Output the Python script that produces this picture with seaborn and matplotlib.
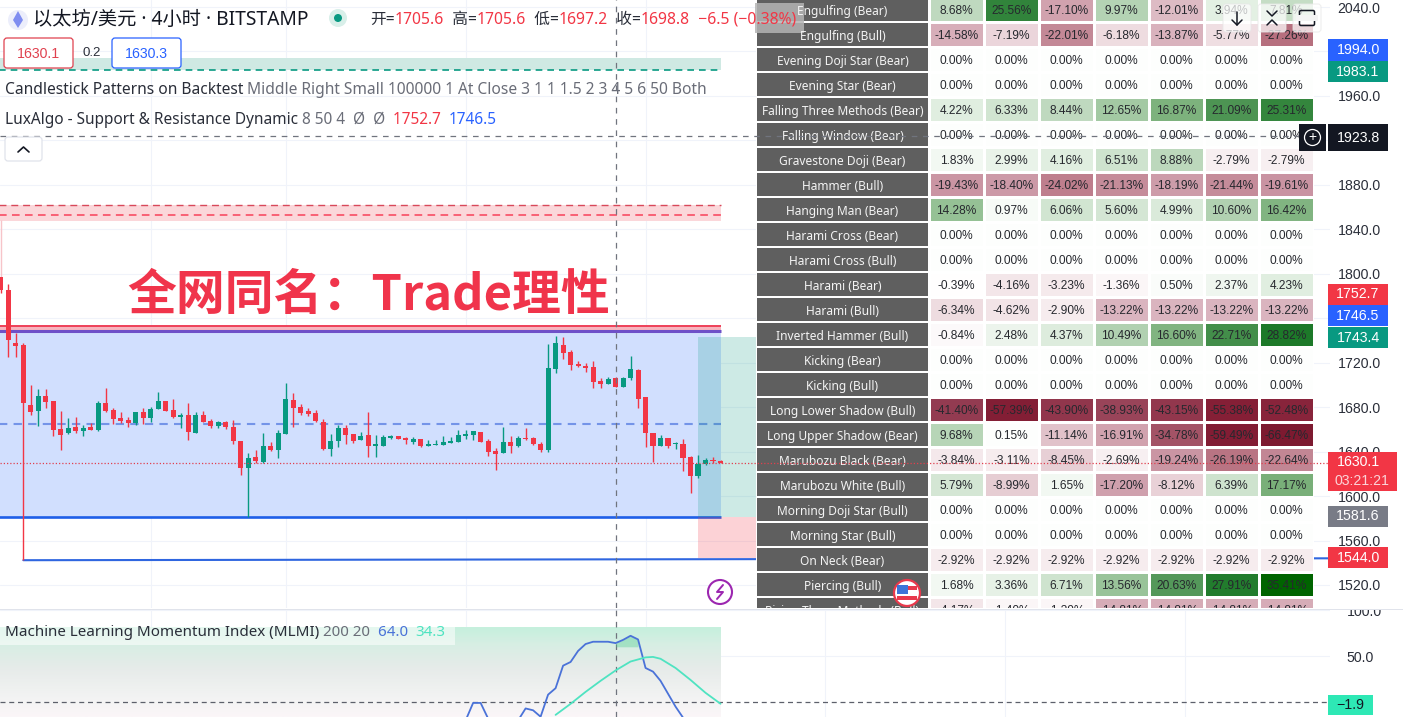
import numpy as np
import pandas as pd
import seaborn as sns
import matplotlib
matplotlib.use("Agg")
import matplotlib.pyplot as plt
from matplotlib.colors import LinearSegmentedColormap, ListedColormap
from matplotlib.patches import Circle, FancyBboxPatch, Polygon, Rectangle

# --- candles (4h ETH/USD), first entry is the bar cut off at the left edge ---
opens = [1797.0, 1785.4, 1738.0, 1735.9, 1681.9, 1676.8, 1690.0, 1685.8, 1660.3, 1656.4, 1662.1, 1658.5, 1662.1, 1659.4,
         1683.4, 1677.4, 1670.5, 1668.4, 1666.0, 1675.6, 1670.5, 1678.6, 1685.5, 1677.4, 1671.4, 1672.9, 1657.0, 1672.9,
         1667.5, 1663.0, 1666.6, 1662.1, 1649.5, 1624.9, 1635.1, 1630.6, 1645.0, 1641.4, 1656.1, 1686.4, 1679.8, 1676.5,
         1674.4, 1666.9, 1642.3, 1649.8, 1661.2, 1655.5, 1650.4, 1654.6, 1645.3, 1645.0, 1652.2, 1653.7, 1652.2, 1648.3,
         1651.3, 1645.3, 1645.9, 1645.9, 1648.0, 1648.6, 1654.3, 1654.9, 1657.6, 1649.5, 1640.5, 1639.0, 1648.6, 1645.0,
         1652.2, 1652.5, 1646.8, 1641.4, 1714.3, 1735.9, 1729.6, 1718.8, 1717.0, 1716.1, 1703.5, 1701.1, 1705.9, 1698.4,
         1705.9, 1713.4, 1688.8, 1656.4, 1645.3, 1652.2, 1646.5, 1646.5, 1635.1, 1618.3, 1628.5, 1632.1, 1631.2]
highs = [1797.0, 1790.8, 1746.4, 1737.4, 1699.9, 1696.3, 1696.3, 1685.8, 1676.8, 1669.9, 1671.4, 1663.9, 1665.4, 1685.8,
         1696.9, 1678.9, 1675.3, 1670.8, 1675.6, 1678.9, 1679.8, 1693.6, 1685.5, 1687.3, 1674.4, 1684.0, 1675.3, 1676.8,
         1669.3, 1667.2, 1667.2, 1668.4, 1649.5, 1638.4, 1641.4, 1656.4, 1648.3, 1659.4, 1701.4, 1693.0, 1682.5, 1678.9,
         1677.4, 1669.3, 1655.8, 1663.9, 1663.9, 1655.5, 1657.9, 1675.3, 1654.9, 1654.6, 1654.9, 1653.7, 1652.8, 1652.8,
         1651.3, 1650.1, 1650.1, 1654.0, 1652.8, 1659.4, 1659.4, 1658.2, 1657.6, 1651.0, 1642.9, 1661.8, 1654.0, 1654.0,
         1661.2, 1653.4, 1648.3, 1736.8, 1744.3, 1742.8, 1731.4, 1721.8, 1720.0, 1721.8, 1705.9, 1707.4, 1706.8, 1706.8,
         1726.0, 1714.0, 1688.8, 1656.4, 1654.6, 1652.2, 1648.3, 1651.0, 1636.3, 1636.9, 1634.5, 1635.4, 1632.4]
lows = [1783.0, 1725.4, 1724.8, 1542.4, 1672.9, 1663.0, 1678.9, 1654.0, 1641.4, 1655.8, 1657.0, 1654.3, 1659.4, 1658.8,
        1675.9, 1664.8, 1665.4, 1662.4, 1663.9, 1664.8, 1666.9, 1678.0, 1676.8, 1670.5, 1661.5, 1650.4, 1657.0, 1666.9,
        1661.5, 1661.5, 1660.3, 1646.5, 1618.9, 1581.4, 1630.0, 1630.0, 1640.8, 1634.5, 1655.5, 1661.8, 1672.9, 1672.3,
        1666.9, 1641.7, 1636.3, 1644.1, 1646.8, 1648.0, 1650.4, 1635.4, 1635.4, 1645.0, 1651.3, 1651.0, 1646.8, 1647.1,
        1643.8, 1645.0, 1645.9, 1645.9, 1647.4, 1648.6, 1651.0, 1650.4, 1648.6, 1636.0, 1623.4, 1639.0, 1639.0, 1643.8,
        1650.4, 1645.9, 1639.3, 1639.9, 1710.4, 1723.0, 1713.4, 1716.4, 1711.9, 1697.5, 1697.5, 1700.8, 1698.1, 1698.4,
        1704.4, 1679.5, 1643.8, 1630.3, 1645.3, 1643.5, 1642.0, 1622.5, 1603.0, 1615.9, 1627.6, 1630.0, 1629.4]
closes = [1785.0, 1740.4, 1735.0, 1683.4, 1675.9, 1690.0, 1684.9, 1659.4, 1654.9, 1661.2, 1658.5, 1661.5, 1659.7, 1684.0,
          1676.5, 1669.3, 1667.5, 1665.4, 1675.6, 1670.5, 1678.6, 1685.5, 1676.8, 1671.1, 1673.2, 1657.9, 1672.9, 1666.9,
          1663.0, 1666.6, 1662.4, 1649.8, 1624.9, 1633.9, 1631.5, 1645.0, 1641.4, 1656.4, 1687.3, 1679.5, 1675.0, 1673.8,
          1667.5, 1642.3, 1649.5, 1661.2, 1654.9, 1649.8, 1654.0, 1645.3, 1646.8, 1653.4, 1654.3, 1651.3, 1650.1, 1651.3,
          1645.0, 1646.8, 1646.5, 1648.3, 1649.2, 1654.9, 1655.8, 1658.2, 1648.6, 1639.9, 1638.1, 1648.6, 1645.0, 1652.2,
          1651.3, 1646.5, 1641.4, 1714.9, 1737.4, 1729.0, 1717.9, 1717.0, 1715.2, 1702.9, 1701.1, 1705.3, 1698.1, 1705.9,
          1714.0, 1687.3, 1657.0, 1645.3, 1652.2, 1645.0, 1647.7, 1634.5, 1618.3, 1628.5, 1632.1, 1631.2, 1630.1]
pale_wick_top = 1848.0

# --- indicator levels ---
resist_upper, resist_mid, resist_lower = 1861.5, 1852.9, 1847.5
band_top, band_bottom = 1994.0, 1983.1
range_top, range_mid, range_bottom = 1748.5, 1665.1, 1581.6
red_line = 1752.7
entry_price, target_price, stop_price = 1581.6, 1743.4, 1544.0
stop_line_start = 1542.3
last_price = 1630.1
cross_price = 1923.8

# --- lower pane (MLMI) ---
mlmi_bars = [61, 62, 63, 64, 65, 66, 67, 68, 69, 70, 71, 72, 73, 74, 75, 76, 77, 78, 79, 80, 81, 82, 83, 84, 85, 86, 87,
             88, 89, 90, 91, 92]
mlmi_vals = [-20, -1, -1, -18, -30, -35, -30, -20, -7, -9, -16, 8, 15, 39.5, 43.5, 55.5, 63, 65.5, 65.5, 65.5, 64, 67.5,
             72, 68, 37, 33, 23, 9, -5, -17, -30, -40]
ma_bars = [73, 75, 77, 79, 81, 83, 85, 86, 87, 89, 91, 93, 95]
ma_vals = [-14, -2, 11, 23, 34.3, 44, 48.5, 49, 47, 37, 24, 10, -1.9]

# --- backtest table ---
pattern_names = ["Engulfing (Bear)", "Engulfing (Bull)", "Evening Doji Star (Bear)", "Evening Star (Bear)",
                 "Falling Three Methods (Bear)", "Falling Window (Bear)", "Gravestone Doji (Bear)", "Hammer (Bull)",
                 "Hanging Man (Bear)", "Harami Cross (Bear)", "Harami Cross (Bull)", "Harami (Bear)", "Harami (Bull)",
                 "Inverted Hammer (Bull)", "Kicking (Bear)", "Kicking (Bull)", "Long Lower Shadow (Bull)",
                 "Long Upper Shadow (Bear)", "Marubozu Black (Bear)", "Marubozu White (Bull)",
                 "Morning Doji Star (Bull)", "Morning Star (Bull)", "On Neck (Bear)", "Piercing (Bull)",
                 "Rising Three Methods (Bull)"]
pattern_returns = [
    [8.68, 25.56, -17.10, 9.97, -12.01, 3.94, 7.81],
    [-14.58, -7.19, -22.01, -6.18, -13.87, -5.77, -27.26],
    [0, 0, 0, 0, 0, 0, 0],
    [0, 0, 0, 0, 0, 0, 0],
    [4.22, 6.33, 8.44, 12.65, 16.87, 21.09, 25.31],
    [0, 0, 0, 0, 0, 0, 0],
    [1.83, 2.99, 4.16, 6.51, 8.88, -2.79, -2.79],
    [-19.43, -18.40, -24.02, -21.13, -18.19, -21.44, -19.61],
    [14.28, 0.97, 6.06, 5.60, 4.99, 10.60, 16.42],
    [0, 0, 0, 0, 0, 0, 0],
    [0, 0, 0, 0, 0, 0, 0],
    [-0.39, -4.16, -3.23, -1.36, 0.50, 2.37, 4.23],
    [-6.34, -4.62, -2.90, -13.22, -13.22, -13.22, -13.22],
    [-0.84, 2.48, 4.37, 10.49, 16.60, 22.71, 28.82],
    [0, 0, 0, 0, 0, 0, 0],
    [0, 0, 0, 0, 0, 0, 0],
    [-41.40, -57.39, -43.90, -38.93, -43.15, -55.38, -52.48],
    [9.68, 0.15, -11.14, -16.91, -34.78, -59.49, -66.47],
    [-3.84, -3.11, -8.45, -2.69, -19.24, -26.19, -22.64],
    [5.79, -8.99, 1.65, -17.20, -8.12, 6.39, 17.17],
    [0, 0, 0, 0, 0, 0, 0],
    [0, 0, 0, 0, 0, 0, 0],
    [-2.92, -2.92, -2.92, -2.92, -2.92, -2.92, -2.92],
    [1.68, 3.36, 6.71, 13.56, 20.63, 27.91, 35.41],
    [-4.17, -1.40, -1.39, -14.81, -14.81, -14.81, -14.81],
]
scale_vals = [-66.47, -55, -41, -27, -19, -13, -8, -3, 0, 4, 8.5, 12.65, 16.87, 21.09, 28.82, 35.41]
scale_colors = ["#7d1a30", "#851f36", "#943c52", "#b7707f", "#cb97a5", "#dbb6c0", "#e9d2d8", "#f6ecee", "#ffffff",
                "#e2efe2", "#c0dac0", "#a3c9a3", "#7fb37f", "#4f9555", "#1e7a2a", "#006400"]

price_ticks = [2040, 1960, 1880, 1840, 1800, 1720, 1680, 1640, 1600, 1560, 1520]
grid_prices = [2040, 2000, 1960, 1920, 1880, 1840, 1800, 1760, 1720, 1680, 1640, 1600, 1560, 1520]
grid_bars = [19, 37, 61, 85, 109, 133, 157]

RED = "#f23645"
GREEN = "#089981"
BLUE = "#2962ff"
W, H = 1403, 717
FONT = ["Liberation Sans", "Noto Sans CJK SC", "DejaVu Sans"]
TEXT_FONT = ["Noto Sans", "Noto Sans CJK SC", "DejaVu Sans"]

sns.set_theme(style="white")
plt.rcParams["font.family"] = FONT


def px_rect(x0, y0, x1, y1):
    return [x0 / W, 1 - y1 / H, (x1 - x0) / W, (y1 - y0) / H]


fig = plt.figure(figsize=(W / 100, H / 100), dpi=100, facecolor="white")

# --- main price pane ---
ax = fig.add_axes(px_rect(0, 0, 1330, 608), zorder=1)
xlim = (-1.11, 176.3)
ylim = (1499.3, 2046.3)
ax.set_xlim(xlim)
ax.set_ylim(ylim)
ax.yaxis.tick_right()
ax.set_yticks(price_ticks)
ax.set_yticklabels([f"{p:.1f}" for p in price_ticks], fontsize=10.2, color="#2a2e39")
ax.set_yticks(grid_prices, minor=True)
ax.set_xticks(grid_bars)
ax.set_xticklabels([])
ax.tick_params(axis="y", which="both", length=0, pad=5.5)
ax.tick_params(axis="x", length=0)
ax.grid(True, which="both", color="#f0f3fa", lw=0.8)
ax.set_axisbelow(True)
sns.despine(ax=ax, left=True, right=True, top=True, bottom=True)

# level bands
ax.fill_between([-2, 95], band_bottom, band_top, color="#cfe9e3", lw=0, zorder=1.1)
ax.hlines(band_bottom, -2, 95, color=GREEN, lw=1.2, ls=(0, (4, 3)), zorder=1.2)
ax.fill_between([-2, 95], resist_lower, resist_upper + 0.5, color="#fbd7da", lw=0, zorder=1.1)
ax.hlines(resist_upper, -2, 95, color="#d8485a", lw=1.0, ls=(0, (5, 3.5)), zorder=1.2)
ax.hlines(resist_mid, -2, 95, color="#f8405a", lw=1.1, ls=(0, (5, 3.5)), zorder=1.2)

# range box
ax.fill_between([-2, 95], range_bottom, range_top, color="#d1dffe", lw=0, zorder=1.1)
ax.fill_between([-2, 95], range_top, red_line, color="#f7b4bd", lw=0, zorder=1.1)
ax.hlines(red_line, -2, 95, color="#ee4058", lw=1.4, zorder=1.3)
ax.hlines(range_top, -2, 95, color="#6f50c8", lw=2.2, zorder=1.3)
ax.hlines(range_bottom, -2, 95, color="#1f5fe8", lw=1.9, zorder=1.3)
ax.hlines(range_mid, -2, 95, color="#7494e8", lw=1.5, ls=(0, (4, 3)), zorder=1.3)
ax.plot([2, 176.3], [stop_line_start, stop_price], color="#2f66e0", lw=1.5, zorder=1.3)

# position boxes
ax.fill_between([92, 101], entry_price, target_price, color=GREEN, alpha=0.2, lw=0, zorder=1.4)
ax.fill_between([92, 101], stop_price, entry_price, color=RED, alpha=0.22, lw=0, zorder=1.4)

# candles
candles = pd.DataFrame({"open": opens, "high": highs, "low": lows, "close": closes})
candles["bar"] = np.arange(len(candles)) - 1
candles["color"] = np.where(candles["close"] >= candles["open"], GREEN, RED)
ax.vlines(-1, highs[0], pale_wick_top, color="#f7c4c9", lw=1.0, zorder=2)
ax.vlines(candles["bar"], candles["low"], candles["high"], colors=candles["color"], lw=1.0, zorder=2)
ax.bar(candles["bar"], (candles["close"] - candles["open"]).abs().clip(lower=0.8),
       bottom=candles[["open", "close"]].min(axis=1), width=0.68, color=candles["color"], lw=0, zorder=2.1)

# --- backtest table ---
ret = np.array(pattern_returns)
pct_labels = np.array([[f"{v:.2f}%" for v in row] for row in pattern_returns])
span = scale_vals[-1] - scale_vals[0]
table_cmap = LinearSegmentedColormap.from_list(
    "backtest", [((v - scale_vals[0]) / span, c) for v, c in zip(scale_vals, scale_colors)])

ax_names = fig.add_axes(px_rect(756, 0, 929, 608), zorder=2)
sns.heatmap(np.zeros((len(pattern_names), 1)), ax=ax_names, cmap=ListedColormap(["#5f5f5f"]), cbar=False,
            annot=np.array(pattern_names).reshape(-1, 1), fmt="", linewidths=1.1, linecolor="white",
            annot_kws={"fontsize": 8.6, "color": "#f4f4f4", "fontfamily": TEXT_FONT},
            xticklabels=False, yticklabels=False)
ax_table = fig.add_axes(px_rect(929, 0, 1314, 608), zorder=2)
sns.heatmap(ret, ax=ax_table, cmap=table_cmap, vmin=scale_vals[0], vmax=scale_vals[-1], cbar=False,
            annot=pct_labels, fmt="", linewidths=0.8, linecolor="white",
            annot_kws={"fontsize": 8.6, "color": "#26282e", "fontfamily": FONT}, xticklabels=False, yticklabels=False)
for a in (ax_names, ax_table):
    a.set_ylim(24.42, 0.1)
    for t in a.texts:
        t.set_y(t.get_position()[1] + 0.05)
        t.set_clip_on(True)
# header overlay sits under the pattern name, above the grey cell
ax_names.add_patch(Rectangle((755 / W, 1 - 33 / H), 49 / W, 30 / H, transform=fig.transFigure, clip_on=False,
                             color="#b4b4b4", alpha=0.85, lw=0, zorder=1.5))

# --- lines that run over everything ---
ax_over = fig.add_axes(px_rect(0, 0, 1330, 608), zorder=3, facecolor="none")
ax_over.set_xlim(xlim)
ax_over.set_ylim(ylim)
ax_over.set_axis_off()
ax_over.hlines(last_price, xlim[0], xlim[1], color="#e0404f", lw=0.9, ls=(0, (1, 1.6)))
ax_over.hlines(cross_price, xlim[0], xlim[1], color="#70747e", lw=0.9, ls=(0, (4.5, 4.5)))
ax_over.vlines(81, ylim[0], ylim[1], color="#70747e", lw=0.9, ls=(0, (4.5, 4.5)))

# --- lower pane ---
ax_low = fig.add_axes(px_rect(0, 610, 1330, 717), zorder=1)
low_ylim = (-16.3, 100)
ax_low.set_xlim(xlim)
ax_low.set_ylim(low_ylim)
ax_low.yaxis.tick_right()
ax_low.set_yticks([50, 100])
ax_low.set_yticklabels(["50.0", "100.0"], fontsize=10.2, color="#2a2e39")
ax_low.set_xticks(grid_bars)
ax_low.set_xticklabels([])
ax_low.tick_params(axis="x", length=0)
ax_low.tick_params(axis="y", length=0, pad=12)
ax_low.grid(True, color="#f0f3fa", lw=0.8)
ax_low.set_axisbelow(True)
sns.despine(ax=ax_low, left=True, right=True, top=True, bottom=True)

shade = LinearSegmentedColormap.from_list(
    "mlmi_shade", [(0, "#c6f0dd"), (0.2, "#d8eee4"), (0.45, "#e6ebe9"), (0.82, "#f4f4f4"), (1, "#fbf6f8")])
ax_low.imshow(np.linspace(0, 1, 80).reshape(-1, 1), cmap=shade, aspect="auto", extent=(-2, 95, low_ylim[0], 81.5),
              zorder=1.1, interpolation="bilinear")
ax_low.set_xlim(xlim)
ax_low.set_ylim(low_ylim)
ax_low.hlines(0, xlim[0], xlim[1], color="#5d606b", lw=0.9, ls=(0, (4, 3)), zorder=1.3)
ax_low.vlines(81, low_ylim[0], low_ylim[1], color="#70747e", lw=0.9, ls=(0, (4.5, 4.5)), zorder=1.3)

mlmi = pd.DataFrame({"bar": mlmi_bars, "value": mlmi_vals})
ma = pd.DataFrame({"bar": ma_bars, "value": ma_vals})
peak = mlmi[(mlmi["bar"] >= 81) & (mlmi["bar"] <= 84)]
ax_low.fill_between(peak["bar"], peak["value"], 60, color="#46c98a", alpha=0.35, lw=0, zorder=1.4)
sns.lineplot(data=mlmi, x="bar", y="value", ax=ax_low, color="#4a72d8", lw=1.3, zorder=2, errorbar=None)
sns.lineplot(data=ma, x="bar", y="value", ax=ax_low, color="#4fe3c1", lw=1.3, zorder=2, errorbar=None)
ax_low.set_xlabel("")
ax_low.set_ylabel("")

# --- text, tags and buttons in pixel space ---
ov = fig.add_axes([0, 0, 1, 1], zorder=4, facecolor="none")
ov.set_xlim(0, W)
ov.set_ylim(H, 0)
ov.set_axis_off()
renderer = fig.canvas.get_renderer()


def runs(x, y, pieces, size):
    for txt, col in pieces:
        t = ov.text(x, y, txt, color=col, fontsize=size, va="center", ha="left", family=TEXT_FONT)
        x = ov.transData.inverted().transform(t.get_window_extent(renderer))[1, 0]
    return x


def tag(y0, y1, txt, face, x1=1388, tc="white"):
    ov.add_patch(Rectangle((1328, y0), x1 - 1328, y1 - y0, color=face, lw=0))
    ov.text((1328 + x1) / 2, (y0 + y1) / 2, txt, color=tc, fontsize=10.2, ha="center", va="center")


# separator between panes, hides the top half of the 100.0 label
ov.add_patch(Rectangle((1330, 598), 73, 10.5, color="white", lw=0))
ov.add_patch(Rectangle((0, 608.5), 1403, 1.6, color="#e0e3eb", lw=0))

# header
ov.add_patch(Circle((18, 20), 10, color="#eceefb", lw=0))
ov.add_patch(Polygon([(18, 11), (23, 20), (18, 28), (13, 20)], color="#7f8df0", lw=0))
runs(33, 20, [("以太坊/美元 · 4小时 · BITSTAMP", "#131722")], 13.85)
ov.add_patch(Circle((338, 18), 9, color="#d8efe9", lw=0))
ov.add_patch(Circle((338, 18), 4, color=GREEN, lw=0))
runs(370, 20, [("开=", "#2a2e39"), ("1705.6", RED), ("  高=", "#2a2e39"), ("1705.6", RED),
               ("  低=", "#2a2e39"), ("1697.2", RED), ("  收=", "#2a2e39"), ("1698.8", RED),
               ("  −6.5 (−0.38%)", RED)], 11.3)

for x0, x1, ec, txt in [(4, 73, "#e0414f", "1630.1"), (112, 181, "#2962ff", "1630.3")]:
    ov.add_patch(FancyBboxPatch((x0 + 3, 41), x1 - x0 - 6, 24, boxstyle="round,pad=3", fc="white", ec=ec, lw=0.9))
    ov.text((x0 + x1) / 2, 54, txt, color=ec, fontsize=10.2, ha="center", va="center")
ov.text(92, 53, "0.2", color="#2a2e39", fontsize=9.5, ha="center", va="center")

runs(5, 90.5, [("Candlestick Patterns on Backtest ", "#2a2e39"),
               ("Middle Right Small 100000 1 At Close 3 1 1 1.5 2 3 4 5 6 50 Both", "#6a6d78")], 11.2)
runs(5, 119.5, [("LuxAlgo - Support & Resistance Dynamic ", "#2a2e39"), ("8 50 4  Ø  Ø  ", "#6a6d78"),
                ("1752.7  ", RED), ("1746.5", BLUE)], 11.1)
ov.add_patch(FancyBboxPatch((8, 140), 31, 18, boxstyle="round,pad=3", fc="white", ec="#e0e3eb", lw=0.9))
ov.plot([18, 23.5, 29], [152, 147, 152], color="#131722", lw=1.2)

ov.text(368.5, 295, "全网同名：Trade理性", color="#f0344b", fontsize=35.2, fontweight="bold", ha="center", va="center",
        family=["Noto Sans CJK SC", "DejaVu Sans"])

# price tags
tag(39, 62, "1994.0", BLUE)
tag(61, 82, "1983.1", GREEN)
tag(124, 151, "1923.8", "#131722")
ov.add_patch(Rectangle((1299, 124), 27, 27, color="#131722", lw=0))
ov.add_patch(Circle((1312.5, 137.5), 8, fc="none", ec="white", lw=0.9))
ov.text(1312.5, 137, "+", color="white", fontsize=10, ha="center", va="center")
tag(284, 305, "1752.7", RED)
tag(305, 326, "1746.5", BLUE)
tag(327, 348, "1743.4", GREEN)
tag(452, 491, "", RED, x1=1397)
ov.text(1358, 462, "1630.1", color="white", fontsize=10.2, ha="center", va="center")
ov.text(1362, 481, "03:21:21", color="#fbd4d8", fontsize=10.2, ha="center", va="center")
tag(506, 527, "1581.6", "#787b86")
tag(547, 568, "1544.0", RED)
tag(695, 715, "−1.9", "#2ee8b5", x1=1373, tc="#131722")

# chart buttons
for x0 in (1223, 1258, 1293):
    ov.add_patch(FancyBboxPatch((x0 + 3, 7), 22, 22, boxstyle="round,pad=3", fc="white", ec="#e8e8e8", alpha=0.72, lw=0.8))
ov.plot([1237, 1237], [12, 25], color="#131722", lw=1.1)
ov.plot([1232, 1237, 1242], [20, 25, 20], color="#131722", lw=1.1)
ov.plot([1267, 1272, 1277], [11, 16, 11], color="#131722", lw=1.1)
ov.plot([1267, 1272, 1277], [25, 20, 25], color="#131722", lw=1.1)
ov.add_patch(FancyBboxPatch((1301, 12), 12, 12, boxstyle="round,pad=1.5", fc="none", ec="#131722", lw=1.1))
ov.add_patch(Rectangle((1296, 15), 22, 6, color="#f4f4f4", lw=0))

# lightning and flag badges
ov.add_patch(Circle((720, 592), 12, fc="white", ec="#9c27b0", lw=1.5))
ov.plot([723, 717, 723, 717], [585, 592, 592, 599], color="#9c27b0", lw=1.4)
ov.add_patch(Circle((907, 593), 13, fc="white", ec="#e8394c", lw=1.6))
ov.add_patch(Rectangle((897, 586), 20, 4, color="#e8394c", lw=0))
ov.add_patch(Rectangle((897, 596), 20, 4, color="#e8394c", lw=0))
ov.add_patch(Rectangle((897, 585), 11, 9, color="#3d74d8", lw=0))

# pane legend
ov.add_patch(Rectangle((0, 627), 455, 18, color="white", alpha=0.55, lw=0))
runs(5, 632.5, [("Machine Learning Momentum Index (MLMI) ", "#2a2e39"), ("200 20  ", "#6a6d78"),
                ("64.0  ", "#4a72d8"), ("34.3", "#4fe3c1")], 10.9)

fig.savefig("out.png", dpi=100, facecolor="white")
